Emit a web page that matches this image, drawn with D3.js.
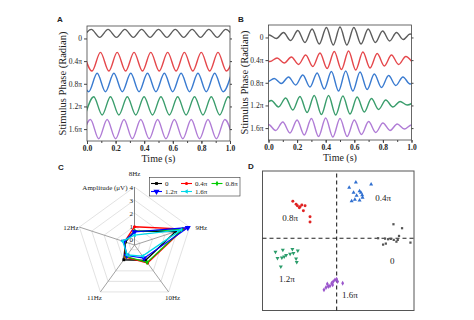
<!DOCTYPE html>
<html>
<head>
<meta charset="utf-8">
<script src="https://cdn.jsdelivr.net/npm/d3@7"></script>
<style>
body { margin: 0; background: #fff; }
text { font-family: "Liberation Serif", "DejaVu Serif", serif; fill: #222; }
.letter { font-family: "Liberation Sans", Arial, sans-serif; font-weight: bold; font-size: 8px; }
</style>
</head>
<body>
<svg id="fig" width="474" height="320"></svg>
<script>
// ---- data ----
var phaseLabels = ["0", "0.4π", "0.8π", "1.2π", "1.6π"];
var phaseTicks = [0, 0.4, 0.8, 1.2, 1.6];
var timeTicks = [0, 0.2, 0.4, 0.6, 0.8, 1.0];

// panel A: extrema [time (s), phase offset] of each stimulus trace
var aPhase0 = [[-0.029,-0.02],[0.030,-0.16],[0.089,-0.02],[0.147,-0.16],[0.206,-0.02],[0.265,-0.16],[0.324,-0.02],[0.382,-0.16],[0.441,-0.02],[0.500,-0.16],[0.559,-0.02],[0.617,-0.16],[0.676,-0.02],[0.735,-0.16],[0.794,-0.02],[0.852,-0.16],[0.911,-0.02],[0.970,-0.16],[1.029,-0.02]];
var aPhase04 = [[-0.024,0.245],[0.035,0.575],[0.094,0.245],[0.153,0.575],[0.211,0.245],[0.270,0.575],[0.329,0.245],[0.388,0.575],[0.446,0.245],[0.505,0.575],[0.564,0.245],[0.623,0.575],[0.681,0.245],[0.740,0.575],[0.799,0.245],[0.858,0.575],[0.916,0.245],[0.975,0.575],[1.034,0.245]];
var aPhase08 = [[-0.047,0.615],[0.012,0.94],[0.071,0.615],[0.129,0.94],[0.188,0.615],[0.247,0.94],[0.306,0.615],[0.364,0.94],[0.423,0.615],[0.482,0.94],[0.541,0.615],[0.599,0.94],[0.658,0.615],[0.717,0.94],[0.776,0.615],[0.834,0.94],[0.893,0.615],[0.952,0.94],[1.011,0.615]];
var aPhase12 = [[-0.012,1.35],[0.047,1.03],[0.106,1.35],[0.164,1.03],[0.223,1.35],[0.282,1.03],[0.341,1.35],[0.399,1.03],[0.458,1.35],[0.517,1.03],[0.576,1.35],[0.634,1.03],[0.693,1.35],[0.752,1.03],[0.811,1.35],[0.869,1.03],[0.928,1.35],[0.987,1.03],[1.046,1.35]];
var aPhase16 = [[-0.035,1.77],[0.024,1.43],[0.082,1.77],[0.141,1.43],[0.200,1.77],[0.259,1.43],[0.317,1.77],[0.376,1.43],[0.435,1.77],[0.494,1.43],[0.552,1.77],[0.611,1.43],[0.670,1.77],[0.729,1.43],[0.787,1.77],[0.846,1.43],[0.905,1.77],[0.964,1.43],[1.022,1.77]];

// panel B: same, amplitude modulated
var bPhase0 = [[-0.045,-0.008],[0.005,-0.043],[0.055,0.019],[0.105,-0.087],[0.155,0.054],[0.205,-0.123],[0.255,0.089],[0.305,-0.149],[0.355,0.116],[0.405,-0.176],[0.453,0.133],[0.500,-0.184],[0.548,0.133],[0.597,-0.176],[0.647,0.116],[0.697,-0.149],[0.747,0.089],[0.798,-0.114],[0.847,0.063],[0.895,-0.087],[0.943,0.036],[0.990,-0.061],[1.040,-0.008]];
var bPhase04 = [[-0.04,0.380],[0.01,0.424],[0.06,0.363],[0.11,0.451],[0.16,0.345],[0.21,0.477],[0.26,0.310],[0.31,0.513],[0.36,0.274],[0.41,0.548],[0.46,0.248],[0.51,0.566],[0.56,0.239],[0.61,0.575],[0.66,0.257],[0.71,0.539],[0.76,0.283],[0.81,0.504],[0.86,0.310],[0.91,0.477],[0.96,0.336],[1.01,0.451]];
var bPhase08 = [[-0.06,0.740],[-0.01,0.786],[0.04,0.725],[0.09,0.813],[0.14,0.698],[0.19,0.839],[0.24,0.663],[0.29,0.875],[0.34,0.627],[0.39,0.910],[0.44,0.601],[0.49,0.945],[0.54,0.592],[0.59,0.945],[0.64,0.610],[0.69,0.919],[0.74,0.645],[0.79,0.883],[0.84,0.672],[0.89,0.848],[0.94,0.698],[0.99,0.822],[1.04,0.710]];
var bPhase12 = [[-0.03,1.200],[0.02,1.113],[0.07,1.228],[0.12,1.069],[0.17,1.281],[0.22,1.042],[0.27,1.325],[0.32,1.025],[0.37,1.360],[0.42,1.025],[0.47,1.369],[0.52,1.033],[0.57,1.351],[0.62,1.051],[0.67,1.316],[0.72,1.078],[0.77,1.272],[0.82,1.104],[0.87,1.228],[0.92,1.131],[0.97,1.192],[1.02,1.139]];
var bPhase16 = [[-0.05,1.607],[0.00,1.536],[0.05,1.642],[0.10,1.492],[0.15,1.686],[0.20,1.457],[0.25,1.722],[0.30,1.431],[0.35,1.748],[0.40,1.422],[0.45,1.757],[0.50,1.431],[0.55,1.748],[0.60,1.457],[0.65,1.713],[0.70,1.483],[0.75,1.678],[0.80,1.510],[0.85,1.642],[0.90,1.528],[0.95,1.616],[1.00,1.545],[1.05,1.600]];

// panel C: SSVEP amplitude (uV) at each frequency
var radarFreqs = ["8Hz", "9Hz", "10Hz", "11Hz", "12Hz"];
var radarTicks = [0, 1, 2, 3, 4];
var amp0 = [0.62, 2.85, 1.00, 0.95, 0.28];
var amp04 = [0.95, 3.50, 1.25, 0.70, 0.35];
var amp08 = [0.60, 3.40, 1.20, 0.65, 0.35];
var amp12 = [0.55, 3.85, 0.80, 0.55, 0.40];
var amp16 = [0.30, 3.30, 0.60, 0.50, 0.50];

// panel D: feature projection of single trials
var proj0 = [[0.766,0.208],[0.882,0.149],[0.559,0.0],[0.653,-0.006],[0.694,-0.015],[0.730,-0.010],[0.824,-0.025],[0.841,0.034],[0.806,-0.051],[0.626,-0.095],[0.663,-0.080],[0.995,-0.065],[0.770,-0.025]];
var proj04 = [[0.259,0.832],[0.465,0.802],[0.169,0.752],[0.228,0.678],[0.309,0.703],[0.327,0.678],[0.344,0.643],[0.269,0.633],[0.202,0.554],[0.246,0.574],[0.309,0.565],[0.349,0.603]];
var proj08 = [[-0.591,0.550],[-0.547,0.505],[-0.530,0.484],[-0.493,0.470],[-0.470,0.495],[-0.426,0.484],[-0.449,0.410],[-0.359,0.321],[-0.359,0.242],[-0.503,0.455]];
var proj12 = [[-0.825,-0.204],[-0.726,-0.174],[-0.597,-0.163],[-0.524,-0.184],[-0.798,-0.297],[-0.739,-0.288],[-0.708,-0.273],[-0.681,-0.253],[-0.628,-0.233],[-0.583,-0.223],[-0.547,-0.303],[-0.538,-0.357],[-0.753,-0.422]];
var proj16 = [[-0.171,-0.768],[-0.144,-0.734],[-0.113,-0.719],[-0.126,-0.679],[-0.090,-0.709],[-0.067,-0.669],[-0.046,-0.645],[-0.023,-0.620],[0.000,-0.609],[0.013,-0.645],[-0.054,-0.694],[0.081,-0.669]];
var projLabelAt = [[0.749,-0.334],[0.627,0.594],[-0.627,0.297],[-0.672,-0.605],[0.179,-0.842]];

// ---- styles ----
var waveColors = ["#5c5c5c", "#e5474b", "#3a7bd0", "#3a9d6c", "#b07cd6"];
var radarColors = ["#000000", "#ff0000", "#00cc00", "#0000ff", "#00d8e8"];
var radarSymbols = [d3.symbolSquare, d3.symbolCircle, d3.symbolDiamond, d3.symbolTriangle, d3.symbolTriangle];
var projColors = ["#555555", "#2f6fd0", "#e02424", "#2a9c6a", "#9a55cc"];
var projSymbols = [d3.symbolSquare, d3.symbolTriangle, d3.symbolCircle, d3.symbolTriangle, d3.symbolDiamond];

var svg = d3.select("#fig");

function letter(txt, x, y) {
    svg.append("text").attr("class", "letter").attr("x", x).attr("y", y).text(txt);
}

function wavePanel(traces, x0, x1, y0, y1, id) {
    var x = d3.scaleLinear().domain([0, 1]).range([x0, x1]);
    var y = d3.scaleLinear().domain([-0.22, 1.81]).range([y0, y1]);
    var g = svg.append("g");

    g.append("clipPath").attr("id", id)
      .append("rect").attr("x", x0).attr("y", y0).attr("width", x1 - x0).attr("height", y1 - y0);

    traces.forEach(function(tr, i) {
        g.append("path")
            .datum(tr)
            .attr("clip-path", "url(#" + id + ")")
            .attr("fill", "none")
            .attr("stroke", waveColors[i])
            .attr("stroke-width", 1.4)
            .attr("d", d3.line()
                .x(function(d) { return x(d[0]); })
                .y(function(d) { return y(d[1]); })
                .curve(d3.curveMonotoneX));
    });

    var bottom = g.append("g")
        .attr("transform", "translate(0," + y1 + ")")
        .call(d3.axisBottom(x).tickValues(timeTicks).tickSize(3).tickPadding(2).tickFormat(d3.format(".1f")));
    bottom.selectAll("text").style("font-family", "Liberation Serif").style("font-weight", "bold").style("font-size", "7.5px");
    g.append("g")
        .attr("transform", "translate(0," + y1 + ")")
        .call(d3.axisBottom(x).ticks(10).tickSize(2).tickFormat(""));
    var left = g.append("g")
        .attr("transform", "translate(" + x0 + ",0)")
        .call(d3.axisLeft(y).tickValues(phaseTicks).tickSize(3).tickPadding(2)
            .tickFormat(function(d, i) { return phaseLabels[i]; }));
    left.selectAll("text").style("font-family", "Liberation Serif").style("font-size", "7.5px");
    g.append("g")
        .attr("transform", "translate(" + x1 + ",0)")
        .call(d3.axisRight(y).tickValues(phaseTicks).tickSize(2).tickFormat(""));
    g.selectAll(".domain").remove();
    g.selectAll(".tick line").attr("stroke", "#444");

    g.append("rect")
        .attr("x", x0).attr("y", y0).attr("width", x1 - x0).attr("height", y1 - y0)
        .attr("fill", "none").attr("stroke", "#444").attr("stroke-width", 0.8);

    g.append("text")
        .attr("x", (x0 + x1) / 2).attr("y", y1 + 21)
        .style("text-anchor", "middle").style("font-size", "10px")
        .text("Time (s)");
    g.append("text")
        .attr("transform", "translate(" + (x0 - 21) + "," + ((y0 + y1) / 2) + ") rotate(-90)")
        .style("text-anchor", "middle").style("font-size", "10.5px")
        .text("Stimulus Phase (Radian)");
}

wavePanel([aPhase0, aPhase04, aPhase08, aPhase12, aPhase16], 87, 230, 26, 141, "clipA");
wavePanel([bPhase0, bPhase04, bPhase08, bPhase12, bPhase16], 268.5, 411.5, 25, 140, "clipB");
letter("A", 57, 22);
letter("B", 238, 22);

// ---- panel C: radar ----
var cx = 134.5, cy = 245;
var r = d3.scaleLinear().domain([-0.45, 4]).range([0, 58]);
var ang = function(i) { return i * 2 * Math.PI / radarFreqs.length; };
var rc = svg.append("g").attr("transform", "translate(" + cx + "," + cy + ")");

radarTicks.forEach(function(t) {
    rc.append("path")
        .datum(radarFreqs)
        .attr("fill", "none").attr("stroke", "#d6d6d6").attr("stroke-width", 0.7)
        .attr("d", d3.lineRadial()
            .angle(function(d, i) { return ang(i); })
            .radius(r(t))
            .curve(d3.curveLinearClosed));
});
radarFreqs.forEach(function(f, i) {
    rc.append("line")
        .attr("x1", 0).attr("y1", 0)
        .attr("x2", r(4) * Math.sin(ang(i))).attr("y2", -r(4) * Math.cos(ang(i)))
        .attr("stroke", i == 0 ? "#666" : "#8a8a8a").attr("stroke-width", 0.8);
});
radarTicks.forEach(function(t) {
    rc.append("text")
        .attr("x", -1.5).attr("y", -r(t) + 2.5)
        .style("text-anchor", "end").style("font-size", "7px")
        .text(t);
});
rc.append("text")
    .attr("x", -7).attr("y", -r(4) + 2.5)
    .style("text-anchor", "end").style("font-size", "7px")
    .text("Amplitude (μV)");

var freqLabelPos = [[0, -69, "middle"], [61, -15, "start"], [38, 55, "middle"], [-40, 55, "middle"], [-56, -15, "end"]];
radarFreqs.forEach(function(f, i) {
    rc.append("text")
        .attr("x", freqLabelPos[i][0]).attr("y", freqLabelPos[i][1])
        .style("text-anchor", freqLabelPos[i][2]).style("font-size", "7px")
        .text(f);
});

var radarSeries = [amp0, amp04, amp08, amp12, amp16];
radarSeries.forEach(function(s, k) {
    rc.append("path")
        .datum(s)
        .attr("fill", "none").attr("stroke", radarColors[k]).attr("stroke-width", 1.3)
        .attr("d", d3.lineRadial()
            .angle(function(d, i) { return ang(i); })
            .radius(function(d) { return r(d); })
            .curve(d3.curveLinearClosed));
    rc.selectAll(null)
        .data(s)
        .enter().append("path")
        .attr("transform", function(d, i) {
            return "translate(" + (r(d) * Math.sin(ang(i))) + "," + (-r(d) * Math.cos(ang(i))) + ")" + (k == 3 ? " rotate(180)" : (k == 4 ? " rotate(-90)" : ""));
        })
        .attr("fill", radarColors[k])
        .attr("d", d3.symbol().type(radarSymbols[k]).size(k == 3 ? 16 : 8));
});

// legend
var lg = svg.append("g");
lg.append("rect").attr("x", 149.5).attr("y", 177.5).attr("width", 90.5).attr("height", 18.5)
    .attr("fill", "#fff").attr("stroke", "#333").attr("stroke-width", 0.6);
var legendPos = [[151, 183.5], [181, 183.5], [211.5, 183.5], [151, 191.5], [181, 191.5]];
radarSeries.forEach(function(s, k) {
    var p = legendPos[k];
    lg.append("line").attr("x1", p[0]).attr("x2", p[0] + 11).attr("y1", p[1]).attr("y2", p[1])
        .attr("stroke", radarColors[k]).attr("stroke-width", 1.1);
    lg.append("path")
        .attr("transform", "translate(" + (p[0] + 5.5) + "," + p[1] + ")" + (k == 3 ? " rotate(180)" : (k == 4 ? " rotate(-90)" : "")))
        .attr("fill", radarColors[k])
        .attr("d", d3.symbol().type(radarSymbols[k]).size(k == 3 ? 16 : 8));
    lg.append("text").attr("x", p[0] + 14).attr("y", p[1] + 2.4)
        .style("font-size", "7px").text(phaseLabels[k]);
});
letter("C", 58, 170);

// ---- panel D: scatter ----
var dx = d3.scaleLinear().domain([-1, 1.043]).range([262.5, 414]);
var dy = d3.scaleLinear().domain([-1.075, 1]).range([310.5, 171]);
var dg = svg.append("g");
dg.append("rect").attr("x", 262.5).attr("y", 171).attr("width", 414 - 262.5).attr("height", 310.5 - 171)
    .attr("fill", "none").attr("stroke", "#555").attr("stroke-width", 1);
dg.append("line").attr("x1", dx(0)).attr("x2", dx(0)).attr("y1", dy.range()[0]).attr("y2", dy.range()[1])
    .attr("stroke", "#222").attr("stroke-width", 1.1).attr("stroke-dasharray", "4,3");
dg.append("line").attr("y1", dy(0)).attr("y2", dy(0)).attr("x1", dx.range()[0]).attr("x2", dx.range()[1])
    .attr("stroke", "#222").attr("stroke-width", 1.1).attr("stroke-dasharray", "4,3");

[proj0, proj04, proj08, proj12, proj16].forEach(function(s, k) {
    dg.selectAll(null)
        .data(s)
        .enter().append("path")
        .attr("transform", function(d) {
            return "translate(" + dx(d[0]) + "," + dy(d[1]) + ")" + (k == 3 ? " rotate(180)" : "");
        })
        .attr("fill", projColors[k])
        .attr("d", d3.symbol().type(projSymbols[k]).size(k == 0 ? 5 : 7));
    dg.append("text")
        .attr("x", dx(projLabelAt[k][0])).attr("y", dy(projLabelAt[k][1]) + 3)
        .style("text-anchor", "middle").style("font-size", "9px")
        .text(phaseLabels[k]);
});
letter("D", 248, 169);
</script>
</body>
</html>
